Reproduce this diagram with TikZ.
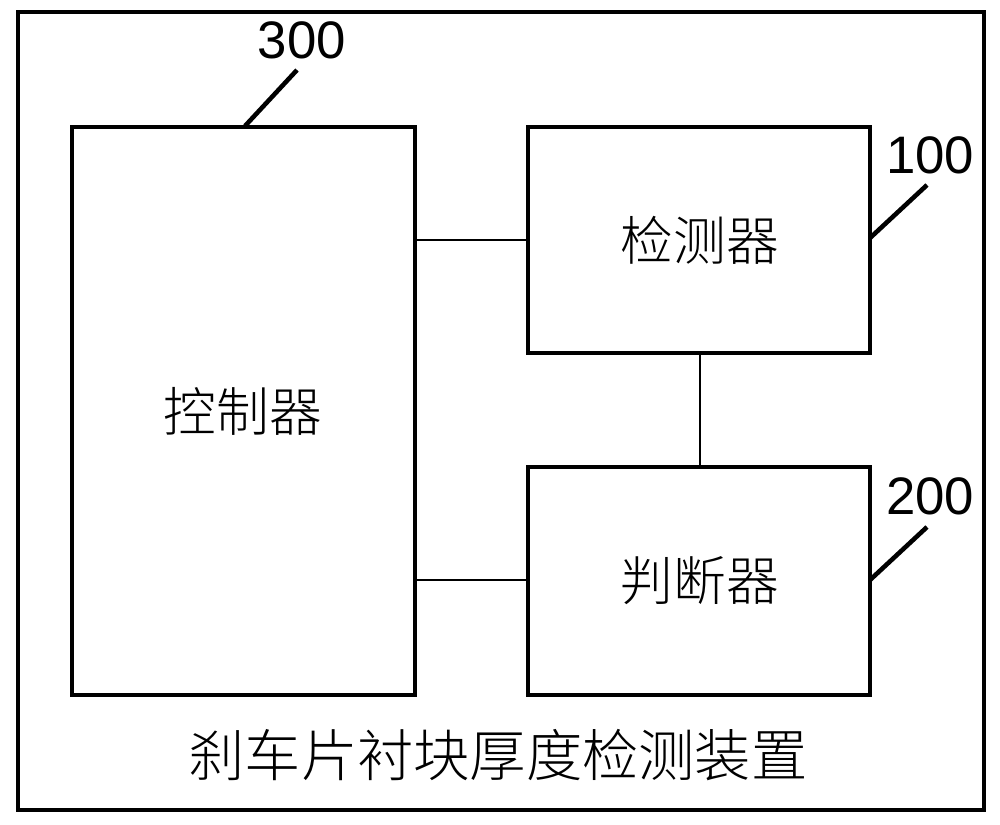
\documentclass[tikz,border=0pt]{standalone}
\usepackage{fontspec}
\setmainfont{Liberation Sans}
\newfontfamily\cjk{Noto Sans CJK SC Light}
\begin{document}
\begin{tikzpicture}[x=0.01cm,y=-0.01cm,
  lbl/.style={font=\cjk\fontsize{15}{17}\selectfont},
  num/.style={font=\fontsize{15}{17}\selectfont},
  wire/.style={line width=0.8pt}]
\useasboundingbox (0,0) rectangle (1000,825);
\draw[line width=1.3pt] (18,12) rectangle (984,810);
\draw[line width=1.3pt] (72,127) rectangle (415,695);
\coordinate (c) at (243,411);
\node[lbl] (ctrl) at (c) {控制器};
\draw[line width=1.3pt] (528,127) rectangle (870,353);
\node[lbl] (det) at (700,240) {检测器};
\draw[line width=1.3pt] (528,467) rectangle (870,695);
\node[lbl] (jud) at (700,581) {判断器};
\coordinate (a1) at (415,240); \coordinate (a2) at (528,240);
\coordinate (b1) at (415,580); \coordinate (b2) at (528,580);
\coordinate (v1) at (700,353); \coordinate (v2) at (700,467);
\draw[wire] (a1) -- (a2);
\draw[wire] (b1) -- (b2);
\draw[wire] (v1) -- (v2);
\node[num] (n300) at (302,40) {300};
\node[num] (n100) at (930,155) {100};
\node[num] (n200) at (930,496) {200};
\coordinate (l3a) at (245,126); \coordinate (l3b) at (297,70);
\coordinate (l1a) at (870,238); \coordinate (l1b) at (927,185);
\coordinate (l2a) at (870,580); \coordinate (l2b) at (927,527);
\draw[line width=1.3pt] (l3a) -- (l3b);
\draw[line width=1.3pt] (l1a) -- (l1b);
\draw[line width=1.3pt] (l2a) -- (l2b);
\node[font=\cjk\fontsize{16}{18}\selectfont] (cap) at (498,755) {刹车片衬块厚度检测装置};
\end{tikzpicture}
\end{document}
